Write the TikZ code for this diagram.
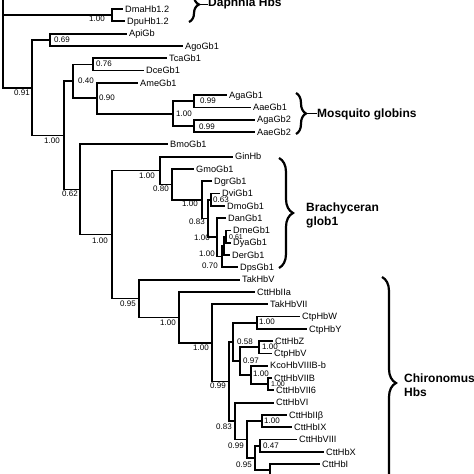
\documentclass[tikz,border=0pt]{standalone}
\usepackage{fontspec}
\setmainfont{Liberation Sans}
\usepackage{tikz}
\usetikzlibrary{calc, decorations.pathreplacing}

\begin{document}
\begin{tikzpicture}[x=1pt, y=-1pt,
    br/.style={line width=1.8pt},
    leaf/.style={anchor=west, inner xsep=2pt, inner ysep=0pt, text height=6.4pt, text depth=0pt, font=\fontsize{9.2}{9}\selectfont},
    bs/.style={inner sep=0pt, font=\fontsize{8}{8}\selectfont},
    bsmall/.style={inner sep=0pt, font=\fontsize{7}{7}\selectfont},
    clade/.style={anchor=base west, inner sep=0pt, font=\fontsize{12}{14}\selectfont\bfseries},
    brc/.style={decorate, decoration={brace, amplitude=#1}, line width=2.2pt},
    brc/.default=10]
    \useasboundingbox (0,0) rectangle (474,474);
    \clip (0,0) rectangle (474,474);

    % 1. Các lá (tên globin)
    \foreach \t/\x [count=\i] in {DmaHb1.2/123, DpuHb1.2/125, ApiGb/127, AgoGb1/183,
        TcaGb1/167, DceGb1/144, AmeGb1/138, AgaGb1/227, AaeGb1/251, AgaGb2/255,
        AaeGb2/255, BmoGb1/168, GinHb/233, GmoGb1/194, DgrGb1/212, DviGb1/220,
        DmoGb1/225, DanGb1/226, DmeGb1/231, DyaGb1/231, DerGb1/230, DpsGb1/238,
        TakHbV/240, CttHbIIa/255, TakHbVII/268, CtpHbW/300, CtpHbY/307, CttHbZ/273,
        CtpHbV/272, KcoHbVIIIB-b/268, CttHbVIIB/272, CttHbVII6/274, CttHbVI/274,
        CttHbIIβ/287, CttHbIX/292, CttHbVIII/297, CttHbX/324, CttHbI/320} {
        \node[leaf] (l\i) at (\x, {9+12.3*(\i-1)}) {\t};
    }
    \coordinate (lcut) at (320,476.4);

    % 2. Các nút trong
    \coordinate (r0) at (3,-10);
    \coordinate (nDaph) at (112,15.2);
    \coordinate (nIns) at (32,87.6);
    \coordinate (nApi) at (50,39.8);
    \coordinate (nRest) at (64,135.4);
    \coordinate (nB) at (73,81.3);
    \coordinate (nTD) at (93,64.4);
    \coordinate (nAme) at (97,98.2);
    \coordinate (nMos) at (173,113.6);
    \coordinate (nAga1) at (194,101.3);
    \coordinate (nAga2) at (194,125.9);
    \coordinate (nBra) at (80,189.4);
    \coordinate (nBra2) at (112,234.5);
    \coordinate (nBrc) at (160,170.5);
    \coordinate (nG) at (172,184.4);
    \coordinate (nDgr) at (202,199.8);
    \coordinate (nE) at (208,218.5);
    \coordinate (nDvi) at (211,199.7);
    \coordinate (nDan) at (217,237.3);
    \coordinate (nK3) at (222,256.5);
    \coordinate (nK2) at (224,245.8);
    \coordinate (nK1) at (226,236.6);
    \coordinate (nChi0) at (139,298.5);
    \coordinate (nChi1) at (179,317.4);
    \coordinate (nChi2) at (212,342.8);
    \coordinate (nChi3) at (229,381.5);
    \coordinate (nP) at (233,341.9);
    \coordinate (nWY) at (257,322.7);
    \coordinate (nQ) at (240,361.1);
    \coordinate (nZV) at (259,347.3);
    \coordinate (nR) at (251,374.9);
    \coordinate (nS) at (268,384.2);
    \coordinate (nT) at (235,421.1);
    \coordinate (nU) at (247,439.5);
    \coordinate (nV) at (262,421.1);
    \coordinate (nZ1) at (255,458.0);
    \coordinate (nX) at (260,445.7);
    \coordinate (nY) at (270,470.3);

    % 3. Các nhánh
    \foreach \p/\c in {r0/nDaph, r0/nIns, nDaph/l1, nDaph/l2, nIns/nApi, nIns/nRest,
        nApi/l3, nApi/l4, nRest/nB, nRest/nBra, nB/nTD, nB/nAme, nTD/l5, nTD/l6,
        nAme/l7, nAme/nMos, nMos/nAga1, nMos/nAga2, nAga1/l8, nAga1/l9,
        nAga2/l10, nAga2/l11, nBra/l12, nBra/nBra2, nBra2/nBrc, nBra2/nChi0,
        nBrc/l13, nBrc/nG, nG/l14, nG/nDgr, nDgr/l15, nDgr/nE, nE/nDvi, nE/nDan,
        nDvi/l16, nDvi/l17, nDan/l18, nDan/nK3, nK3/nK2, nK3/l22, nK2/nK1, nK2/l21,
        nK1/l19, nK1/l20, nChi0/l23, nChi0/nChi1, nChi1/l24, nChi1/nChi2,
        nChi2/l25, nChi2/nChi3, nChi3/nP, nChi3/nT, nP/nWY, nP/nQ, nWY/l26, nWY/l27,
        nQ/nZV, nQ/nR, nZV/l28, nZV/l29, nR/l30, nR/nS, nS/l31, nS/l32,
        nT/l33, nT/nU, nU/nV, nU/nZ1, nV/l34, nV/l35, nZ1/nX, nZ1/nY,
        nX/l36, nX/l37, nY/l38, nY/lcut} {
        \draw[br] (\p) |- (\c);
    }

    % 4. Giá trị hỗ trợ
    \foreach \v/\x/\y [count=\i] in {1.00/97/19, 0.91/22/93, 0.69/62/40, 1.00/52/141,
        0.76/104/64, 0.40/86/81, 0.90/107/98, 1.00/184/114, 0.99/208/101,
        0.99/207/127, 0.62/70/194, 1.00/100/241, 1.00/147/176, 0.80/161/189,
        1.00/190/204, 0.63/221/200, 0.83/197/222, 1.00/202/238,
        1.00/207/254, 0.70/210/266, 0.95/128/304, 1.00/168/323, 1.00/201/348,
        0.99/218/386, 1.00/267/322, 0.58/245/342, 1.00/270/347, 0.97/251/361,
        1.00/261/374, 0.83/224/427, 1.00/272/421, 0.99/236/446,
        0.47/271/446, 0.95/244/465} {
        \node[bs] (b\i) at (\x,\y) {\v};
    }
    % hai giá trị nằm sát chữ
    \node[bsmall] (bDme) at (236,236.6) {0.61};
    \node[bsmall] (bVII) at (278,384.2) {1.00};

    % 5. Ngoặc nhóm
    \draw[brc] (189,-13) -- (189,22);
    \node[clade] (cDaph) at (208,6.7) {Daphnia Hbs};
    \coordinate (tDaph) at (199,4.5);
    \draw[line width=1.5pt] (tDaph) -- (tDaph -| cDaph.west);

    \draw[brc] (296,93) -- (296,134);
    \node[clade] (cMos) at (317,117.6) {Mosquito globins};
    \coordinate (tMos) at (306,113.5);
    \draw[line width=1.5pt] (tMos) -- (tMos -| cMos.west);

    \draw[brc=14] (279,158) -- (279,268);
    \node[clade] (cBra1) at (306,211.3) {Brachyceran};
    \node[clade] (cBra2) at (306,225.3) {glob1};

    \draw[brc=14] (382,277) -- (382,489);
    \node[clade] (cChi1) at (404,382.3) {Chironomus};
    \node[clade] (cChi2) at (404,396.3) {Hbs};
\end{tikzpicture}
\end{document}
